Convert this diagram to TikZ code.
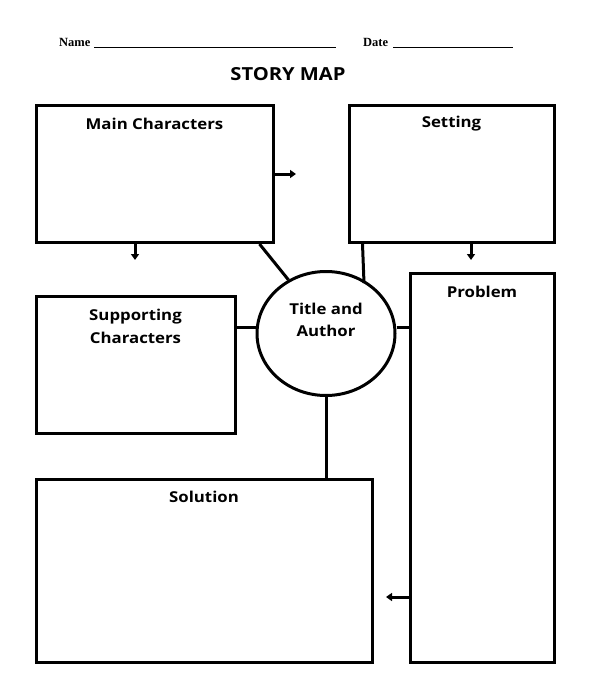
\documentclass[tikz,border=0pt]{standalone}
\usepackage{fontspec}
\setmainfont{Liberation Serif}
\newfontfamily\comic{Open Sans}[FakeStretch=1.12]
\usetikzlibrary{shapes.geometric,arrows.meta}
\tikzset{
  box/.style={draw, line width=3pt, rectangle, inner sep=0pt},
  oval/.style={draw, line width=3pt, ellipse, inner sep=0pt, minimum width=138pt, minimum height=124pt},
  lbl/.style={font=\comic\bfseries\fontsize{15}{22.5}\selectfont, align=center, inner sep=0pt},
  ttl/.style={font=\comic\bfseries\fontsize{18}{22}\selectfont, inner sep=0pt},
  hdr/.style={font=\bfseries\fontsize{12.5}{14}\selectfont, inner sep=0pt, anchor=base west},
  rule/.style={line width=0.8pt},
  link/.style={line width=3pt},
  arr/.style={line width=3pt, -{Triangle[length=6pt,width=8pt]}},
}
\begin{document}
\begin{tikzpicture}[x=1pt,y=-1pt]
\useasboundingbox[fill=white] (0,0) rectangle (598,699);
% header
\node[hdr] (name) at (59,46) {Name};
\coordinate (nameA) at (94,47);
\coordinate (nameB) at (336,47);
\draw[rule] (nameA) -- (nameB);
\node[hdr] (date) at (363,46) {Date};
\coordinate (dateA) at (393,47);
\coordinate (dateB) at (513,47);
\draw[rule] (dateA) -- (dateB);
\node[ttl] (title) at (288,74) {STORY MAP};
% boxes
\node[box, minimum width=237pt, minimum height=137pt] (mc) at (154.5,174) {};
\node[box, minimum width=205pt, minimum height=137pt] (set) at (451.5,174) {};
\node[box, minimum width=199pt, minimum height=137pt] (sc) at (135.5,364.5) {};
\node[box, minimum width=144pt, minimum height=389pt] (prob) at (482,467.5) {};
\node[box, minimum width=336pt, minimum height=183pt] (sol) at (204,570.5) {};
\node[oval] (ta) at (326,333.5) {};
% labels
\node[lbl] (mcl) at (154.5,124) {Main Characters};
\node[lbl] (setl) at (451.5,124) {Setting};
\node[lbl] (scl) at (135.5,326.5) {Supporting\\Characters};
\node[lbl] (tal) at (326,320) {Title and\\Author};
\node[lbl] (probl) at (482,292) {Problem};
\node[lbl] (soll) at (204,497) {Solution};
% connectors
\coordinate (mcA) at ([xshift=-15pt]mc.south east);
\draw[link] (mcA) -- (ta.125);
\coordinate (setA) at ([xshift=15pt]set.south west);
\coordinate (setB) at (364,283);
\draw[link] (setA) -- (setB);
\draw[link] (sc.east |- 0,327) -- (ta.west |- 0,327);
\draw[link] (ta.east |- 0,327) -- (prob.west |- 0,327);
\draw[link] (ta.south) -- (ta.south |- sol.north);
% arrows
\coordinate (a1) at (296,174);
\draw[arr] (mc.east |- a1) -- (a1);
\coordinate (a2) at (135,260);
\draw[arr] (mc.south -| a2) -- (a2);
\coordinate (a3) at (471,260);
\draw[arr] (set.south -| a3) -- (a3);
\coordinate (a4) at (386,597);
\draw[arr] (prob.west |- a4) -- (a4);
\end{tikzpicture}
\end{document}
